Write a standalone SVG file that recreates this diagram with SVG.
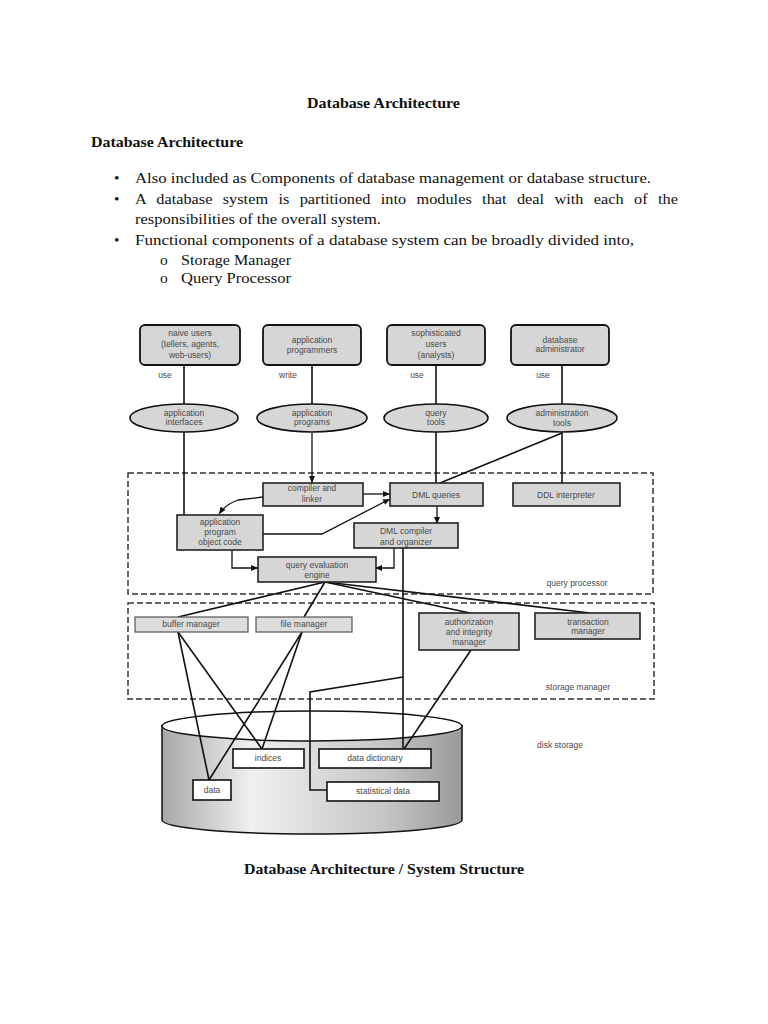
<svg xmlns="http://www.w3.org/2000/svg" width="768" height="1024" viewBox="0 0 768 1024">
<defs>
<style>
.doc{font-family:"Liberation Serif","Times New Roman",serif;font-size:15.5px;fill:#111}
.b{font-weight:bold}
.t{font-family:"Liberation Sans",Arial,sans-serif;font-size:8.5px;fill:#4a4a4a;text-anchor:middle}
.top{fill:#d6d6d6;stroke:#111;stroke-width:1.8}
.box{fill:#d6d6d6;stroke:#222;stroke-width:1.6}
.lbox{fill:#dcdcdc;stroke:#555;stroke-width:1.2}
.wbox{fill:#fff;stroke:#111;stroke-width:1.6}
.ell{fill:#d6d6d6;stroke:#111;stroke-width:1.6}
.dash{fill:none;stroke:#333;stroke-width:1.5;stroke-dasharray:6 3}
.ln{fill:none;stroke:#111;stroke-width:1.6}
.ar{fill:none;stroke:#111;stroke-width:1.3;marker-end:url(#ah)}
</style>
<marker id="ah" markerWidth="8" markerHeight="8" refX="7" refY="4" orient="auto" markerUnits="userSpaceOnUse">
<path d="M0,1 L7,4 L0,7 Z" fill="#111"/>
</marker>
<linearGradient id="cyl" x1="0" y1="0" x2="1" y2="0">
<stop offset="0" stop-color="#a8a8a8"/>
<stop offset="0.3" stop-color="#f0f0f0"/>
<stop offset="0.75" stop-color="#c4c4c4"/>
<stop offset="1" stop-color="#9a9a9a"/>
</linearGradient>
</defs>
<rect width="768" height="1024" fill="#fff"/>

<g id="text-body">
<text class="doc b" x="307" y="108" textLength="153" lengthAdjust="spacingAndGlyphs">Database Architecture</text>
<text class="doc b" x="91" y="147" textLength="152" lengthAdjust="spacingAndGlyphs">Database Architecture</text>
<text class="doc" x="114" y="183">•</text>
<text class="doc" x="135" y="183" textLength="516" lengthAdjust="spacingAndGlyphs">Also included as Components of database management or database structure.</text>
<text class="doc" x="114" y="204">•</text>
<text class="doc" x="135" y="204" word-spacing="6" textLength="543" lengthAdjust="spacingAndGlyphs">A database system is partitioned into modules that deal with each of the</text>
<text class="doc" x="135" y="224" textLength="246" lengthAdjust="spacingAndGlyphs">responsibilities of the overall system.</text>
<text class="doc" x="114" y="245">•</text>
<text class="doc" x="135" y="245" textLength="499" lengthAdjust="spacingAndGlyphs">Functional components of a database system can be broadly divided into,</text>
<text class="doc" x="160" y="265">o</text>
<text class="doc" x="181" y="265" textLength="110" lengthAdjust="spacingAndGlyphs">Storage Manager</text>
<text class="doc" x="160" y="283">o</text>
<text class="doc" x="181" y="283" textLength="110" lengthAdjust="spacingAndGlyphs">Query Processor</text>
<text class="doc b" x="244" y="874" textLength="280" lengthAdjust="spacingAndGlyphs">Database Architecture / System Structure</text>
</g>

<g id="disk-storage">
<path d="M162,726 L162,820 A150,14 0 0 0 462,820 L462,726 Z" fill="url(#cyl)" stroke="#111" stroke-width="1.5"/>
<ellipse cx="312" cy="726" rx="150" ry="15" fill="#fff" stroke="#111" stroke-width="1.5"/>
<text class="t" x="560" y="748">disk storage</text>
</g>

<g id="regions">
<rect class="dash" x="128" y="473" width="525" height="121"/>
<text class="t" x="577" y="586">query processor</text>
<rect class="dash" x="128" y="603" width="526" height="96"/>
<text class="t" x="578" y="690">storage manager</text>
</g>

<g id="connectors">
<line class="ln" x1="184" y1="365" x2="184" y2="515"/>
<line class="ln" x1="312" y1="365" x2="312" y2="404"/>
<line class="ar" x1="312" y1="433" x2="312" y2="483"/>
<line class="ln" x1="436" y1="365" x2="436" y2="405"/>
<line class="ln" x1="436" y1="432" x2="436" y2="483"/>
<line class="ln" x1="562" y1="365" x2="562" y2="404"/>
<line class="ln" x1="562" y1="432" x2="562" y2="483"/>
<line class="ln" x1="562" y1="433" x2="440" y2="483"/>
<line class="ar" x1="363" y1="494" x2="390" y2="494"/>
<path class="ar" d="M263,497 L238,500 Q226,504 219,514"/>
<path class="ar" d="M263,534 L322,534 L390,499"/>
<line class="ar" x1="437" y1="506" x2="437" y2="524"/>
<path class="ar" d="M394,548 L394,568 L375,568"/>
<path class="ar" d="M232,550 L232,568 L258,568"/>
<line class="ln" x1="403" y1="548" x2="403" y2="748"/>
<path class="ln" d="M403,677 L310,692 L310,790 L327,790"/>
<line class="ln" x1="471" y1="650" x2="404" y2="749"/>
<line class="ln" x1="325" y1="582" x2="178" y2="617"/>
<line class="ln" x1="325" y1="582" x2="304" y2="617"/>
<line class="ln" x1="325" y1="582" x2="470" y2="613"/>
<line class="ln" x1="325" y1="582" x2="590" y2="613"/>
<line class="ln" x1="178" y1="632" x2="209" y2="780"/>
<line class="ln" x1="178" y1="632" x2="262" y2="749"/>
<line class="ln" x1="302" y1="632" x2="209" y2="780"/>
<line class="ln" x1="302" y1="632" x2="262" y2="749"/>
</g>

<g id="naive-users">
<rect class="top" x="140" y="325" width="100" height="40" rx="5"/>
<text class="t" x="190" y="336">naive users</text>
<text class="t" x="190" y="347">(tellers, agents,</text>
<text class="t" x="190" y="358">web-users)</text>
<text class="t" x="165" y="378">use</text>
</g>
<g id="application-programmers">
<rect class="top" x="263" y="325" width="98" height="40" rx="5"/>
<text class="t" x="312" y="343">application</text>
<text class="t" x="312" y="353">programmers</text>
<text class="t" x="288" y="378">write</text>
</g>
<g id="sophisticated-users">
<rect class="top" x="387" y="325" width="98" height="40" rx="5"/>
<text class="t" x="436" y="336">sophisticated</text>
<text class="t" x="436" y="347">users</text>
<text class="t" x="436" y="358">(analysts)</text>
<text class="t" x="417" y="378">use</text>
</g>
<g id="database-administrator">
<rect class="top" x="511" y="325" width="98" height="40" rx="5"/>
<text class="t" x="560" y="343">database</text>
<text class="t" x="560" y="352">administrator</text>
<text class="t" x="543" y="378">use</text>
</g>

<g id="application-interfaces">
<ellipse class="ell" cx="184" cy="418" rx="54" ry="14"/>
<text class="t" x="184" y="416">application</text>
<text class="t" x="184" y="425">interfaces</text>
</g>
<g id="application-programs">
<ellipse class="ell" cx="312" cy="418" rx="55" ry="14"/>
<text class="t" x="312" y="416">application</text>
<text class="t" x="312" y="425">programs</text>
</g>
<g id="query-tools">
<ellipse class="ell" cx="436" cy="418" rx="52" ry="14"/>
<text class="t" x="436" y="416">query</text>
<text class="t" x="436" y="425">tools</text>
</g>
<g id="administration-tools">
<ellipse class="ell" cx="562" cy="418" rx="55" ry="14"/>
<text class="t" x="562" y="416">administration</text>
<text class="t" x="562" y="426">tools</text>
</g>

<g id="compiler-linker">
<rect class="box" x="263" y="483" width="100" height="23"/>
<text class="t" x="312" y="491">compiler and</text>
<text class="t" x="312" y="502">linker</text>
</g>
<g id="dml-queries">
<rect class="box" x="390" y="483" width="93" height="23"/>
<text class="t" x="436" y="498">DML queries</text>
</g>
<g id="ddl-interpreter">
<rect class="box" x="513" y="483" width="107" height="23"/>
<text class="t" x="566" y="498">DDL interpreter</text>
</g>
<g id="app-object-code">
<rect class="box" x="177" y="515" width="86" height="35"/>
<text class="t" x="220" y="525">application</text>
<text class="t" x="220" y="535">program</text>
<text class="t" x="220" y="545">object code</text>
</g>
<g id="dml-compiler">
<rect class="box" x="354" y="523" width="104" height="25"/>
<text class="t" x="406" y="534">DML compiler</text>
<text class="t" x="406" y="545">and organizer</text>
</g>
<g id="query-evaluation-engine">
<rect class="box" x="258" y="557" width="118" height="25"/>
<text class="t" x="317" y="568">query evaluation</text>
<text class="t" x="317" y="578">engine</text>
</g>

<g id="buffer-manager">
<rect class="lbox" x="135" y="617" width="113" height="15"/>
<text class="t" x="191" y="627">buffer manager</text>
</g>
<g id="file-manager">
<rect class="lbox" x="256" y="617" width="96" height="15"/>
<text class="t" x="304" y="627">file manager</text>
</g>
<g id="authorization-manager">
<rect class="box" x="419" y="613" width="100" height="37"/>
<text class="t" x="469" y="625">authorization</text>
<text class="t" x="469" y="635">and integrity</text>
<text class="t" x="469" y="645">manager</text>
</g>
<g id="transaction-manager">
<rect class="box" x="535" y="613" width="105" height="26"/>
<text class="t" x="588" y="625">transaction</text>
<text class="t" x="588" y="634">manager</text>
</g>

<g id="indices">
<rect class="wbox" x="233" y="749" width="71" height="19"/>
<text class="t" x="268" y="761">indices</text>
</g>
<g id="data-dictionary">
<rect class="wbox" x="319" y="749" width="112" height="19"/>
<text class="t" x="375" y="761">data dictionary</text>
</g>
<g id="data">
<rect class="wbox" x="193" y="780" width="38" height="20"/>
<text class="t" x="212" y="793">data</text>
</g>
<g id="statistical-data">
<rect class="wbox" x="327" y="782" width="112" height="19"/>
<text class="t" x="383" y="794">statistical data</text>
</g>
</svg>
